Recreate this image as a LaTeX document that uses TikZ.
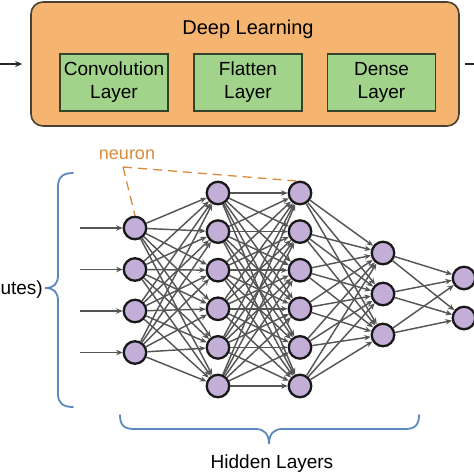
\documentclass[tikz,border=0pt]{standalone}
\usepackage{fontspec}
\setmainfont{Liberation Sans}
\usetikzlibrary{arrows.meta}
\definecolor{boxorange}{HTML}{F5B570}
\definecolor{boxedge}{HTML}{4A4036}
\definecolor{boxgreen}{HTML}{A2D38A}
\definecolor{greenedge}{HTML}{34432C}
\definecolor{lav}{HTML}{C3AED7}
\definecolor{edgegray}{HTML}{555555}
\definecolor{braceblue}{HTML}{5C88BE}
\definecolor{labelorange}{HTML}{D98A3A}
\begin{document}
\begin{tikzpicture}[x=1pt,y=-1pt,
  dlbox/.style={draw=boxedge, line width=1.6pt, fill=boxorange, rounded corners=12pt,
    minimum width=428pt, minimum height=124pt, inner sep=0pt},
  layerbox/.style={draw=greenedge, line width=1.5pt, fill=boxgreen,
    minimum width=108pt, minimum height=57pt, inner sep=0pt, align=center,
    font=\fontsize{19}{23}\selectfont},
  title/.style={font=\fontsize{20}{24}\selectfont},
  neuron/.style={circle, draw=black!90, line width=2.3pt, fill=lav,
    minimum size=22.5pt, inner sep=0pt},
  edge/.style={draw=edgegray, line width=1.45pt,
    -{Stealth[length=6.5pt,width=5.5pt]}},
  bracestyle/.style={draw=braceblue, line width=1.8pt, line cap=round},
  ndash/.style={draw=labelorange, line width=1.3pt, dash pattern=on 9pt off 6pt},
  lbl/.style={font=\fontsize{19}{23}\selectfont, inner sep=0pt}
]
\useasboundingbox (0,0) rectangle (474,474);

% top block
\node[dlbox] (dl) at (245,64) {};
\node[title] (dlt) at (248,29) {Deep Learning};
\node[layerbox] (conv) at (114,82.5) {Convolution\\Layer};
\node[layerbox] (flat) at (248,82.5) {Flatten\\Layer};
\node[layerbox] (dense) at (381.5,82.5) {Dense\\Layer};
\coordinate (inL) at (0,64);
\coordinate (outR) at (476,64);
\draw[line width=1.6pt, black!85, -{Stealth[length=7pt,width=6pt]}, shorten >=8pt] (inL) -- (dl.west);
\draw[line width=1.6pt, black!85, shorten <=5pt] (dl.east) -- (outR);

% neurons
\foreach \y [count=\i] in {228,269.5,311,352.5}
  \node[neuron] (a\i) at (135,\y) {};
\foreach \y [count=\i] in {193,231.6,270.2,308.8,347.4,386}
  \node[neuron] (b\i) at (218,\y) {};
\foreach \y [count=\i] in {193,231.6,270.2,308.8,347.4,386}
  \node[neuron] (c\i) at (300,\y) {};
\foreach \y [count=\i] in {253,294,335}
  \node[neuron] (d\i) at (383,\y) {};
\foreach \y [count=\i] in {278,318}
  \node[neuron] (e\i) at (464,\y) {};

% input arrows
\foreach \i in {1,...,4} {
  \coordinate (in\i) at (80,0 |- a\i);
  \draw[edge] (in\i) -- (a\i);
}

% connections
\foreach \i in {1,...,4}
  \foreach \j in {1,...,6}
    \draw[edge] (a\i) -- (b\j);
\foreach \i in {1,...,6}
  \foreach \j in {1,...,6}
    \draw[edge] (b\i) -- (c\j);
\foreach \i in {1,...,6}
  \foreach \j in {1,...,3}
    \draw[edge] (c\i) -- (d\j);
\foreach \i in {1,...,3}
  \foreach \j in {1,...,2}
    \draw[edge] (d\i) -- (e\j);

% neuron callout
\node[lbl, text=labelorange, font=\fontsize{18}{22}\selectfont] (nl) at (127,155) {neuron};
\coordinate (nc) at (123,167);
\draw[ndash] (nc) -- (a1.north);
\draw[ndash] (nc) -- (c1.105);

% braces
\draw[bracestyle] (73,173) .. controls (63,173) and (58,177) .. (58,187) -- (58,275)
  .. controls (58,284) and (54,288) .. (45,288)
  .. controls (54,288) and (58,292) .. (58,301) -- (58,394)
  .. controls (58,403) and (63,407) .. (73,407);
\node[lbl, anchor=east] (attr) at (43,290) {utes)};

\draw[bracestyle] (120,415) .. controls (120,425) and (124,429) .. (134,429) -- (256,429)
  .. controls (264,429) and (269,434) .. (269,444)
  .. controls (269,434) and (274,429) .. (282,429) -- (405,429)
  .. controls (415,429) and (419,425) .. (419,415);
\node[lbl] (hid) at (272,464) {Hidden Layers};
\end{tikzpicture}
\end{document}
